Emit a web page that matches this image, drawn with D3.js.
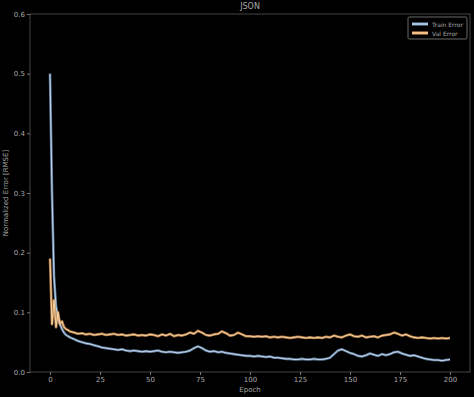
<!doctype html>
<html lang="en">
<head>
<meta charset="UTF-8">
<title>Training curves</title>
<script src="https://cdn.jsdelivr.net/npm/d3@7"></script>
<style>
  html, body { margin: 0; padding: 0; background: #000; }
  text { font-family: "DejaVu Sans", sans-serif; fill: #a8a8a8; }
</style>
</head>
<body>
<div id="container"></div>
<script>
var epochs = [0, 1, 2, 3, 4, 5, 6, 7, 8, 9, 10,
  12, 14, 16, 18, 20, 22, 24, 26, 28, 30, 32, 34, 36, 38, 40, 42, 44, 46, 48, 50,
  52, 54, 56, 58, 60, 62, 64, 66, 68, 70, 72, 74, 76, 78, 80, 82, 84, 86, 88, 90,
  92, 94, 96, 98, 100, 102, 104, 106, 108, 110, 112, 114, 116, 118, 120, 122, 124, 126, 128, 130,
  132, 134, 136, 138, 140, 142, 144, 146, 148, 150, 152, 154, 156, 158, 160, 162, 164, 166, 168, 170,
  172, 174, 176, 178, 180, 182, 184, 186, 188, 190, 192, 194, 196, 198, 200];

var train_error = [0.50, 0.30, 0.16, 0.11, 0.09, 0.08, 0.072, 0.066, 0.062, 0.060, 0.058,
  0.055, 0.052, 0.050, 0.048, 0.047, 0.045, 0.043, 0.041, 0.040, 0.039,
  0.038, 0.037, 0.038, 0.036, 0.035, 0.036, 0.035, 0.034, 0.035, 0.034,
  0.035, 0.036, 0.034, 0.033, 0.034, 0.033, 0.032, 0.033, 0.034, 0.036,
  0.040, 0.043, 0.040, 0.036, 0.034, 0.035, 0.033, 0.034, 0.032, 0.031,
  0.030, 0.029, 0.028, 0.027, 0.027, 0.026, 0.027, 0.026, 0.025, 0.026,
  0.024, 0.024, 0.023, 0.022, 0.022, 0.021, 0.021, 0.022, 0.021, 0.021,
  0.022, 0.021, 0.021, 0.022, 0.024, 0.030, 0.036, 0.038, 0.035, 0.032,
  0.030, 0.027, 0.026, 0.028, 0.031, 0.029, 0.027, 0.030, 0.028, 0.030,
  0.033, 0.034, 0.031, 0.029, 0.027, 0.028, 0.026, 0.024, 0.022, 0.021,
  0.020, 0.020, 0.019, 0.020, 0.021];

var val_error = [0.19, 0.08, 0.12, 0.075, 0.10, 0.08, 0.085, 0.075, 0.072, 0.070, 0.068,
  0.066, 0.064, 0.065, 0.063, 0.064, 0.062, 0.063, 0.064, 0.062, 0.063,
  0.064, 0.062, 0.063, 0.061, 0.062, 0.063, 0.061, 0.062, 0.061, 0.063,
  0.062, 0.060, 0.063, 0.061, 0.064, 0.060, 0.062, 0.061, 0.063, 0.066,
  0.064, 0.069, 0.066, 0.062, 0.061, 0.063, 0.064, 0.068, 0.065, 0.061,
  0.062, 0.066, 0.063, 0.060, 0.060, 0.059, 0.060, 0.059, 0.060, 0.058,
  0.059, 0.058, 0.059, 0.058, 0.057, 0.058, 0.059, 0.058, 0.057, 0.058,
  0.057, 0.058, 0.057, 0.059, 0.058, 0.061, 0.059, 0.058, 0.061, 0.063,
  0.060, 0.059, 0.061, 0.058, 0.059, 0.060, 0.058, 0.061, 0.062, 0.063,
  0.066, 0.064, 0.061, 0.063, 0.060, 0.058, 0.057, 0.058, 0.057, 0.056,
  0.057, 0.056, 0.057, 0.056, 0.057];

var x_ticks = [0, 25, 50, 75, 100, 125, 150, 175, 200];
var y_ticks = [0, 0.1, 0.2, 0.3, 0.4, 0.5, 0.6];
var series_names = ["Train Error", "Val Error"];

var width = 474, height = 397;
var margin = { left: 30, top: 14, right: 4, bottom: 25 };
var g_width = width - margin.left - margin.right;
var g_height = height - margin.top - margin.bottom;

var colors = { band: ["#7fa6cf", "#f0a860"], core: ["#cfe2f5", "#fbd9ad"] };

var scale_x = d3.scaleLinear().domain([-10, 210]).range([0, g_width]);
var scale_y = d3.scaleLinear().domain([0, 0.6]).range([g_height, 0]);

var svg = d3.select("#container").append("svg")
  .attr("width", width).attr("height", height)
  .style("background", "#000").style("display", "block");

var g = svg.append("g")
  .attr("transform", "translate(" + margin.left + "," + margin.top + ")");

// frame
g.append("rect")
  .attr("width", g_width).attr("height", g_height)
  .attr("fill", "none").attr("stroke", "#555").attr("stroke-width", 0.8);

var x_axis = d3.axisBottom(scale_x).tickValues(x_ticks).tickSize(3).tickPadding(2)
  .tickFormat(d3.format("d"));
var y_axis = d3.axisLeft(scale_y).tickValues(y_ticks).tickSize(3).tickPadding(2)
  .tickFormat(d3.format(".1f"));

g.append("g").attr("transform", "translate(0," + g_height + ")").call(x_axis)
  .call(function (s) { s.select(".domain").remove(); });
g.append("g").call(y_axis)
  .call(function (s) { s.select(".domain").remove(); });

g.selectAll(".tick line").attr("stroke", "#777");
g.selectAll(".tick text").attr("font-size", 7).style("fill", "#a8a8a8");

var line_generator = d3.line()
  .x(function (d, i) { return scale_x(epochs[i]); })
  .y(function (d) { return scale_y(d); });

[train_error, val_error].forEach(function (vals, k) {
  g.append("path").attr("d", line_generator(vals))
    .attr("fill", "none").attr("stroke", colors.band[k])
    .attr("stroke-width", 2.6).attr("stroke-opacity", 0.75)
    .attr("stroke-linejoin", "round");
  g.append("path").attr("d", line_generator(vals))
    .attr("fill", "none").attr("stroke", colors.core[k])
    .attr("stroke-width", 0.9).attr("stroke-linejoin", "round");
});

// title and axis labels
svg.append("text").attr("x", margin.left + g_width / 2).attr("y", 9)
  .attr("text-anchor", "middle").attr("font-size", 8).text("JSON");
svg.append("text").attr("x", margin.left + g_width / 2).attr("y", 392)
  .attr("text-anchor", "middle").attr("font-size", 7).text("Epoch");
svg.append("text")
  .attr("transform", "translate(8," + (margin.top + g_height / 2) + ") rotate(-90)")
  .attr("text-anchor", "middle").attr("font-size", 7).text("Normalized Error [RMSE]");

// legend
var legend = g.append("g").attr("transform", "translate(" + (g_width - 62) + ",3)");
legend.append("rect").attr("width", 59).attr("height", 22).attr("rx", 1.5)
  .attr("fill", "#000").attr("stroke", "#9a9a9a").attr("stroke-width", 0.7);
series_names.forEach(function (name, k) {
  var row = legend.append("g").attr("transform", "translate(4," + (7 + k * 9) + ")");
  row.append("line").attr("x1", 0).attr("x2", 16)
    .attr("stroke", colors.band[k]).attr("stroke-width", 3);
  row.append("line").attr("x1", 0).attr("x2", 16)
    .attr("stroke", colors.core[k]).attr("stroke-width", 1);
  row.append("text").attr("x", 20).attr("y", 2.5).attr("font-size", 6).text(name);
});
</script>
</body>
</html>
